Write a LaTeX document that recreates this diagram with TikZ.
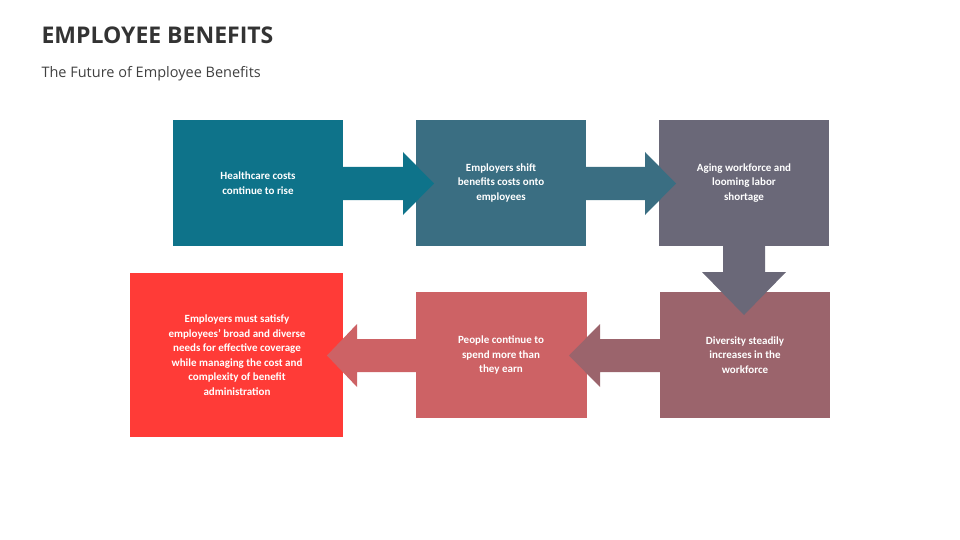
\documentclass[tikz,border=0pt]{standalone}
\usepackage{fontspec}
\setmainfont{Carlito}
\newfontfamily\titlefont{Open Sans}
\begin{document}
\begin{tikzpicture}[x=1pt,y=-1pt,
  box/.style={draw=none,align=center,text=white,font=\bfseries\fontsize{11}{14.5}\selectfont,inner sep=0pt},
  arr/.style={draw=none}]
\useasboundingbox (0,0) rectangle (960,540);
\definecolor{cA}{HTML}{0E738A}
\definecolor{cB}{HTML}{3A6E82}
\definecolor{cC}{HTML}{6A6878}
\definecolor{cD}{HTML}{9B646C}
\definecolor{cE}{HTML}{CD6265}
\definecolor{cF}{HTML}{FF3B37}
\node[anchor=west,font=\titlefont\bfseries\fontsize{23}{26}\selectfont,text=black!80] (t) at (38,35) {EMPLOYEE BENEFITS};
\node[anchor=west,font=\titlefont\fontsize{14.5}{17}\selectfont,text=black!75] (s) at (38,74) {The Future of Employee Benefits};
% boxes
\fill[cA] (173,120) rectangle (343,246) coordinate (b1);
\fill[cB] (416,120) rectangle (586,246);
\fill[cC] (659,120) rectangle (829,246);
\fill[cD] (660,292) rectangle (830,418);
\fill[cE] (416,292) rectangle (587,418);
\fill[cF] (130,273) rectangle (343,437);
% arrows
\fill[cA] (343,167) -- (403,167) -- (403,152) -- (434,183.5) -- (403,215) -- (403,200) -- (343,200) -- cycle;
\fill[cB] (586,167) -- (645,167) -- (645,152) -- (676,183.5) -- (645,215) -- (645,200) -- (586,200) -- cycle;
\fill[cC] (723,246) -- (723,272) -- (702,272) -- (744,315) -- (786,272) -- (765,272) -- (765,246) -- cycle;
\fill[cD] (660,339) -- (600,339) -- (600,324) -- (569,355.5) -- (600,387) -- (600,372) -- (660,372) -- cycle;
\fill[cE] (416,339) -- (357,339) -- (357,324) -- (327,355.5) -- (357,387) -- (357,372) -- (416,372) -- cycle;
% texts
\node[box] (n1) at (258,183) {Healthcare costs\\continue to rise};
\node[box] (n2) at (501,183) {Employers shift\\benefits costs onto\\employees};
\node[box] (n3) at (744,183) {Aging workforce and\\looming labor\\shortage};
\node[box] (n4) at (745,355) {Diversity steadily\\increases in the\\workforce};
\node[box] (n5) at (501,355) {People continue to\\spend more than\\they earn};
\node[box] (n6) at (237,355) {Employers must satisfy\\employees' broad and diverse\\needs for effective coverage\\while managing the cost and\\complexity of benefit\\administration};
\end{tikzpicture}
\end{document}
